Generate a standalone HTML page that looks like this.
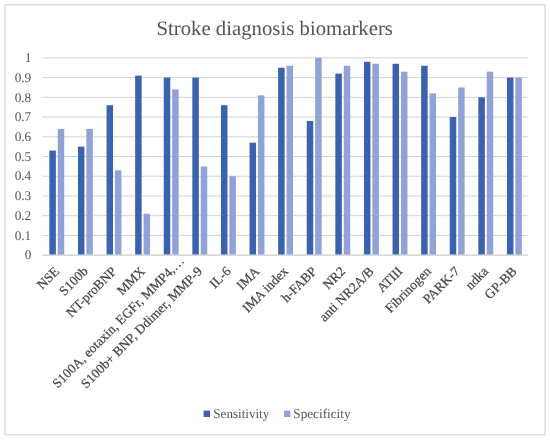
<!DOCTYPE html>
<html lang="en">
<head>
<meta charset="utf-8">
<title>Stroke diagnosis biomarkers</title>
<style>
html,body{margin:0;padding:0;background:#fff;}
body{width:550px;height:440px;overflow:hidden;}
svg{display:block;}
text{text-rendering:geometricPrecision;font-family:"Liberation Serif","Times New Roman",serif;fill:#555555;stroke:none;}
.r text{fill:#444444;stroke:#444444;stroke-width:0.2px;}
</style>
</head>
<body>
<svg width="550" height="440" viewBox="0 0 550 440">
<rect x="0" y="0" width="550" height="440" fill="#ffffff"/>
<rect x="5" y="4.8" width="540.1" height="429.9" fill="#ffffff" stroke="#dedede" stroke-width="1.5"/>
<text x="274.7" y="34.8" font-size="20.5" text-anchor="middle" textLength="236.5" lengthAdjust="spacingAndGlyphs">Stroke diagnosis biomarkers</text>
<g stroke="#d3d3d3" stroke-width="1">
<line x1="42.20" y1="255.15" x2="527.90" y2="255.15"/>
<line x1="42.20" y1="235.42" x2="527.90" y2="235.42"/>
<line x1="42.20" y1="215.69" x2="527.90" y2="215.69"/>
<line x1="42.20" y1="195.96" x2="527.90" y2="195.96"/>
<line x1="42.20" y1="176.23" x2="527.90" y2="176.23"/>
<line x1="42.20" y1="156.50" x2="527.90" y2="156.50"/>
<line x1="42.20" y1="136.77" x2="527.90" y2="136.77"/>
<line x1="42.20" y1="117.04" x2="527.90" y2="117.04"/>
<line x1="42.20" y1="97.31" x2="527.90" y2="97.31"/>
<line x1="42.20" y1="77.58" x2="527.90" y2="77.58"/>
<line x1="42.20" y1="57.85" x2="527.90" y2="57.85"/>
</g>
<g font-size="13.33" text-anchor="end">
<text x="31.3" y="259.35">0</text>
<text x="31.3" y="239.62">0.1</text>
<text x="31.3" y="219.89">0.2</text>
<text x="31.3" y="200.16">0.3</text>
<text x="31.3" y="180.43">0.4</text>
<text x="31.3" y="160.70">0.5</text>
<text x="31.3" y="140.97">0.6</text>
<text x="31.3" y="121.24">0.7</text>
<text x="31.3" y="101.51">0.8</text>
<text x="31.3" y="81.78">0.9</text>
<text x="31.3" y="62.05">1</text>
</g>
<g fill="#3b62ad"><rect x="49.35" y="150.58" width="6.50" height="104.07"/><rect x="77.95" y="146.63" width="6.50" height="108.02"/><rect x="106.55" y="105.20" width="6.50" height="149.45"/><rect x="135.15" y="75.61" width="6.50" height="179.04"/><rect x="163.75" y="77.58" width="6.50" height="177.07"/><rect x="192.35" y="77.58" width="6.50" height="177.07"/><rect x="220.95" y="105.20" width="6.50" height="149.45"/><rect x="249.55" y="142.69" width="6.50" height="111.96"/><rect x="278.15" y="67.72" width="6.50" height="186.94"/><rect x="306.75" y="120.99" width="6.50" height="133.66"/><rect x="335.35" y="73.63" width="6.50" height="181.02"/><rect x="363.95" y="61.80" width="6.50" height="192.85"/><rect x="392.55" y="63.77" width="6.50" height="190.88"/><rect x="421.15" y="65.74" width="6.50" height="188.91"/><rect x="449.75" y="117.04" width="6.50" height="137.61"/><rect x="478.35" y="97.31" width="6.50" height="157.34"/><rect x="506.95" y="77.58" width="6.50" height="177.07"/></g>
<g fill="#92a2d6"><rect x="57.75" y="128.88" width="6.50" height="125.77"/><rect x="86.35" y="128.88" width="6.50" height="125.77"/><rect x="114.95" y="170.31" width="6.50" height="84.34"/><rect x="143.55" y="213.72" width="6.50" height="40.93"/><rect x="172.15" y="89.42" width="6.50" height="165.23"/><rect x="200.75" y="166.37" width="6.50" height="88.29"/><rect x="229.35" y="176.23" width="6.50" height="78.42"/><rect x="257.95" y="95.34" width="6.50" height="159.31"/><rect x="286.55" y="65.74" width="6.50" height="188.91"/><rect x="315.15" y="57.85" width="6.50" height="196.80"/><rect x="343.75" y="65.74" width="6.50" height="188.91"/><rect x="372.35" y="63.77" width="6.50" height="190.88"/><rect x="400.95" y="71.66" width="6.50" height="182.99"/><rect x="429.55" y="93.36" width="6.50" height="161.29"/><rect x="458.15" y="87.44" width="6.50" height="167.21"/><rect x="486.75" y="71.66" width="6.50" height="182.99"/><rect x="515.35" y="77.58" width="6.50" height="177.07"/></g>
<line x1="42.20" y1="255.15" x2="527.90" y2="255.15" stroke="#d3d3d3" stroke-width="1"/>
<g class="r" font-size="13.33" text-anchor="end">
<text transform="translate(60.00,272.15) rotate(-45)">NSE</text>
<text transform="translate(88.60,272.15) rotate(-45)">S100b</text>
<text transform="translate(117.20,272.15) rotate(-45)">NT-proBNP</text>
<text transform="translate(145.80,272.15) rotate(-45)">MMX</text>
<text transform="translate(184.90,261.65) rotate(-45)">S100A, eotaxin, EGFr, MMP4,…</text>
<text transform="translate(203.00,272.15) rotate(-45)">S100b+ BNP, Ddimer, MMP-9</text>
<text transform="translate(231.60,272.15) rotate(-45)">IL-6</text>
<text transform="translate(260.20,272.15) rotate(-45)">IMA</text>
<text transform="translate(288.80,272.15) rotate(-45)">IMA index</text>
<text transform="translate(317.40,272.15) rotate(-45)">h-FABP</text>
<text transform="translate(346.00,272.15) rotate(-45)">NR2</text>
<text transform="translate(374.60,272.15) rotate(-45)">anti NR2A/B</text>
<text transform="translate(403.20,272.15) rotate(-45)">ATIII</text>
<text transform="translate(431.80,272.15) rotate(-45)">Fibrinogen</text>
<text transform="translate(460.40,272.15) rotate(-45)">PARK-7</text>
<text transform="translate(489.00,272.15) rotate(-45)">ndka</text>
<text transform="translate(517.60,272.15) rotate(-45)">GP-BB</text>
</g>
<rect x="203.6" y="410.6" width="6.4" height="6.4" fill="#3b62ad"/>
<text x="213.3" y="418" font-size="13.33" textLength="56" lengthAdjust="spacingAndGlyphs">Sensitivity</text>
<rect x="284" y="410.6" width="6.4" height="6.4" fill="#92a2d6"/>
<text x="293.3" y="418" font-size="13.33" textLength="57.2" lengthAdjust="spacingAndGlyphs">Specificity</text>
</svg>
</body>
</html>
